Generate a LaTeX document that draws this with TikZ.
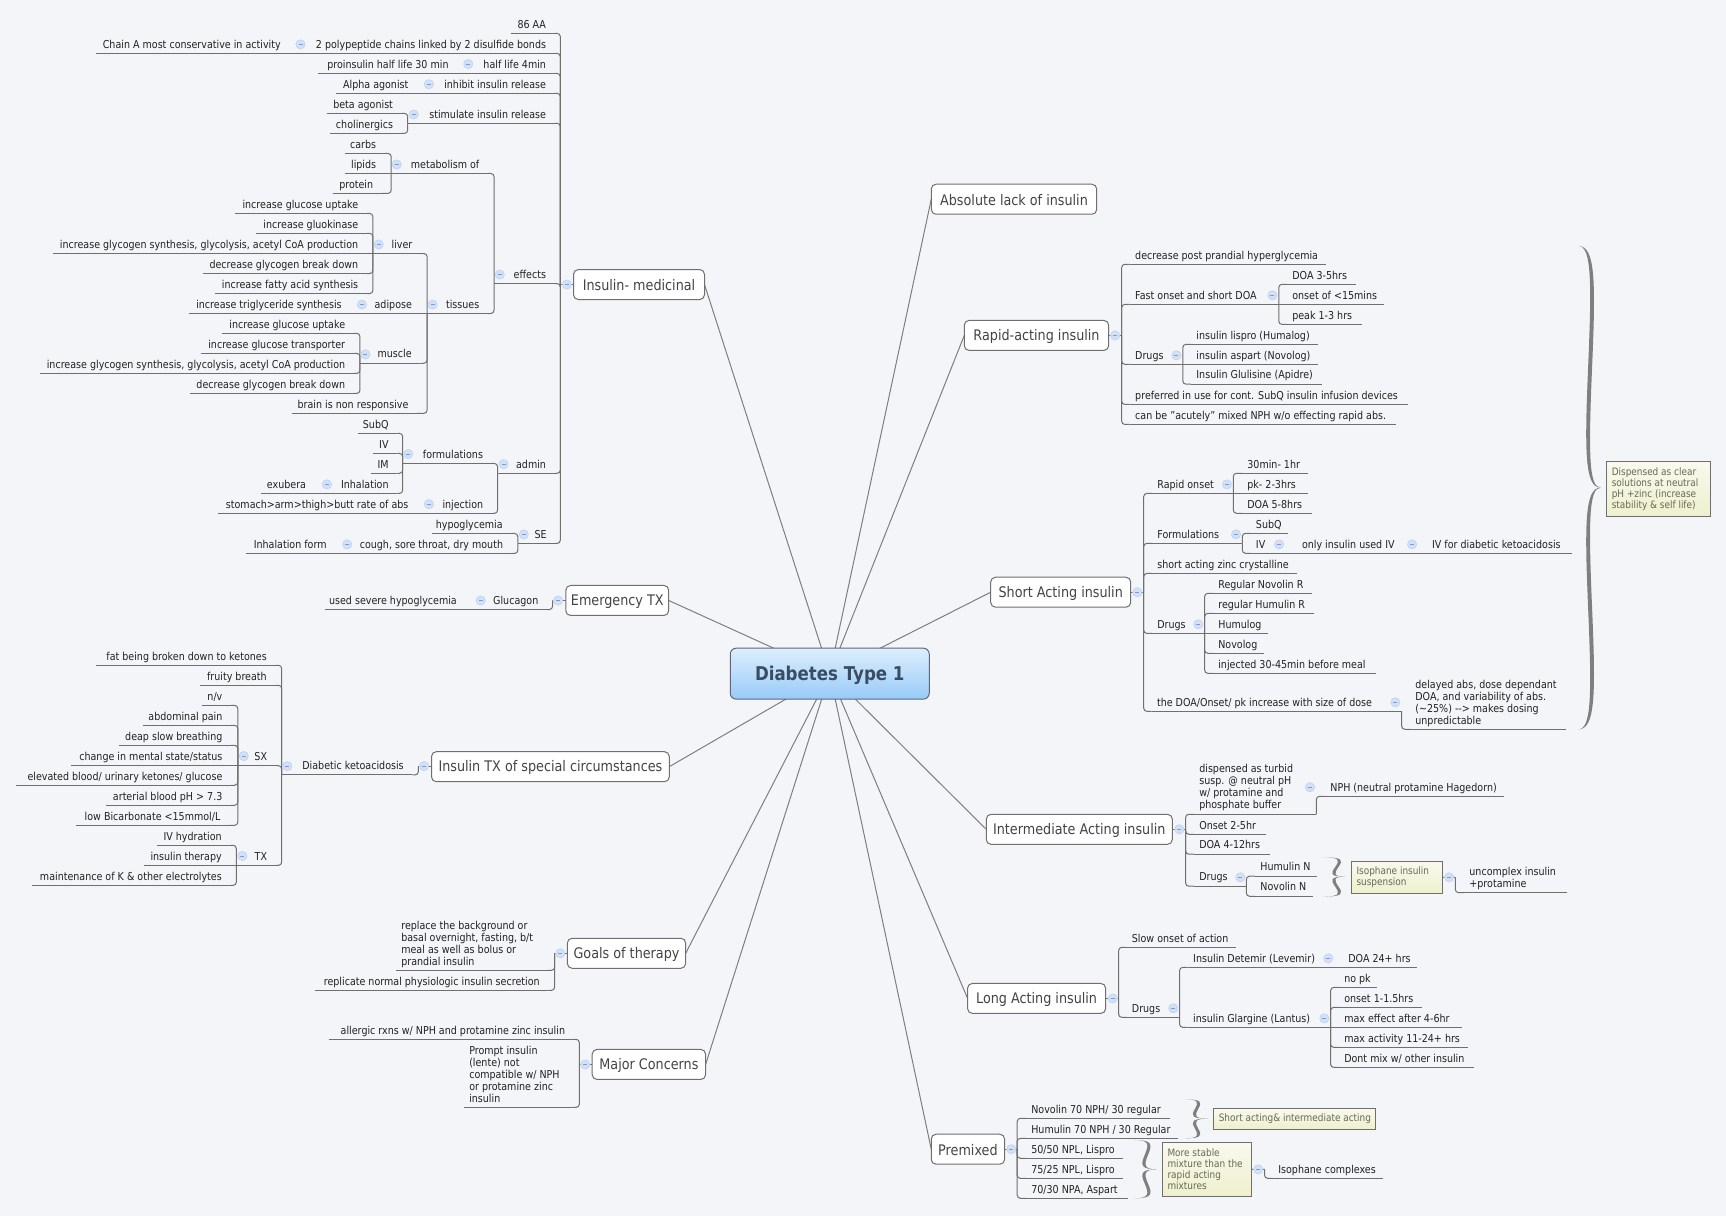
\documentclass[tikz,border=0pt]{standalone}
\usepackage{fontspec}
\setmainfont{DejaVu Sans}[FakeStretch=0.875]
\usetikzlibrary{backgrounds,calc}
\definecolor{bgc}{HTML}{F3F5F9}
\definecolor{linec}{HTML}{6F6F6F}
\definecolor{spokec}{HTML}{7E7E7E}
\definecolor{txtc}{HTML}{222222}
\definecolor{topc}{HTML}{444444}
\definecolor{notec}{HTML}{686858}
\definecolor{ctrc}{HTML}{3A4C62}
\definecolor{mnfill}{HTML}{D3E1F6}
\definecolor{mndraw}{HTML}{BDD1F0}
\definecolor{mndash}{HTML}{7E9CD2}
\definecolor{notet}{HTML}{F9F9EE}
\definecolor{noteb}{HTML}{EEF0CC}
\definecolor{ctrt}{HTML}{DCEEFD}
\definecolor{ctrb}{HTML}{98CBF8}
\definecolor{bracec}{HTML}{7F7F7F}
\newlength\ux \setlength\ux{0.5504pt}
\newcounter{mnc}
\tikzset{
  lab/.style={inner sep=0pt,outer sep=0pt,text depth=2.64pt,text=txtc,font=\fontsize{5.45}{6}\selectfont},
  ul/.style={draw=linec,line width=0.5pt},
  conn/.style={draw=linec,line width=0.5pt,rounded corners=1.6pt},
  spoke/.style={draw=spokec,line width=0.5pt},
  mns/.style={circle,inner sep=0pt,outer sep=0pt,minimum size=4.6pt,fill=mnfill,draw=mndraw,line width=0.3pt,
    path picture={\draw[mndash,line width=0.35pt] ([xshift=-1pt]path picture bounding box.center)--([xshift=1pt]path picture bounding box.center);}},
  topic/.style={draw=linec,fill=white,rounded corners=2.4pt,line width=0.5pt,text=topc,inner sep=0pt,outer sep=0pt,font=\fontsize{7.3}{8}\selectfont},
  note/.style={draw=linec,top color=notet,bottom color=noteb,line width=0.5pt,text=notec,inner sep=0pt,outer sep=0pt,font=\fontsize{5.1}{5.5}\selectfont},
  brc/.style={fill=bracec,draw=none},
}
\newcommand\mlb[2][6pt]{\vbox{\baselineskip=#1\lineskiplimit=-20pt\halign{##\hfil\cr #2\crcr}}}
% left-side branch: name, underline start, text right edge, underline y, text
\newcommand\LN[5]{%
  \pgfmathsetlengthmacro\myw{(#3+8-(#2))*\ux}%
  \node[lab,anchor=south east] (#1) at ({#3+8},#4) {\makebox[\myw][r]{#5\hspace{4.4pt}}};
  \draw[ul] (#1.south west) -- (#1.south east);
}
% right-side branch: name, text left edge, underline end, underline y, text
\newcommand\RN[5]{%
  \pgfmathsetlengthmacro\myw{(#3-(#2)+5)*\ux}%
  \node[lab,anchor=south west] (#1) at ({#2-5},#4) {\makebox[\myw][l]{\hspace{2.75pt}#5}};
  \draw[ul] (#1.south west) -- (#1.south east);
}
% elbow connector, straight when both ends are level
\newcommand\elbow[2]{%
  \path let \p1=(#1),\p2=(#2) in \pgfextra{\xdef\ydiff{\the\dimexpr\y1-\y2\relax}};
  \ifdim\ydiff<0.2pt \ifdim\ydiff>-0.2pt
      \draw[ul] (#1) -- (#2);
    \else
      \draw[conn] (#1) |- (#2);
    \fi
  \else
    \draw[conn] (#1) |- (#2);
  \fi
}
\newcommand\cLs[2]{\foreach \cc in {#2} {\elbow{#1}{\cc.south east}}}
\newcommand\cRs[2]{\foreach \cc in {#2} {\elbow{#1}{\cc.south west}}}
\newcommand\mn[2]{\stepcounter{mnc}\node[mns] (mn\arabic{mnc}) at (#1,#2) {};}
% topic box: name, left, right, centre y, text
\newcommand\TP[5]{%
  \pgfmathsetlengthmacro\myw{(#3-(#2))*\ux}%
  \node[topic,minimum width=\myw,minimum height=15pt] (#1) at ({(#2+#3)/2},#4) {\raisebox{-0.5pt}[\height][\depth]{#5}};
}
% note box: name, left, right, top, bottom, text
\newcommand\NT[6]{%
  \pgfmathsetlengthmacro\myw{(#3-(#2))*\ux}%
  \pgfmathsetlengthmacro\myh{(#5-(#4))*\ux}%
  \node[note,minimum width=\myw,minimum height=\myh] (#1) at ({(#2+#3)/2},{(#4+#5)/2}) {\makebox[\myw][l]{\hspace{2.6pt}#6}};
}
% curly brace: x-start, x-upper spine, x-lower spine, x-tip, y-top, y-centre, y-bottom, thickness
\newcommand\CB[8]{%
  \pgfmathsetmacro\ha{#6-#5}\pgfmathsetmacro\hb{#7-#6}%
  \fill[brc] (#1,#5) .. controls (#2,#5) and (#2,{#5+.15*\ha}) .. ({(#2+#3)/2},{#5+.5*\ha})
    .. controls (#3,{#5+.85*\ha}) and (#3,#6) .. (#4,#6)
    .. controls ({#3+#8},#6) and ({#3+#8},{#5+.85*\ha}) .. ({(#2+#3)/2+#8},{#5+.5*\ha})
    .. controls ({#2+#8},{#5+.15*\ha}) and ({#2+#8},#5) .. (#1,#5) -- cycle;
  \fill[brc] (#1,#7) .. controls (#2,#7) and (#2,{#7-.15*\hb}) .. ({(#2+#3)/2},{#7-.5*\hb})
    .. controls (#3,{#7-.85*\hb}) and (#3,#6) .. (#4,#6)
    .. controls ({#3+#8},#6) and ({#3+#8},{#7-.85*\hb}) .. ({(#2+#3)/2+#8},{#7-.5*\hb})
    .. controls ({#2+#8},{#7-.15*\hb}) and ({#2+#8},#7) .. (#1,#7) -- cycle;
}
\begin{document}
\begin{tikzpicture}[x=\ux,y=-\ux]
\useasboundingbox (0,0) rectangle (1568,1104.65);
% ---------- central and main topics
\node[draw=linec!90!blue,rounded corners=3pt,line width=0.5pt,top color=ctrt,bottom color=ctrb,
  minimum width=99.5pt,minimum height=25.5pt,inner sep=0pt,text=ctrc,font=\fontsize{9.5}{10}\selectfont\bfseries] (ctr) at (753.8,612) {\raisebox{-0.8pt}[\height][\depth]{Diabetes Type 1}};
\TP{tabs}{846}{996.3}{181}{Absolute lack of insulin}
\TP{trap}{876}{1007.2}{304.7}{Rapid-acting insulin}
\TP{tsho}{900}{1027.2}{538}{Short Acting insulin}
\TP{tint}{896}{1065}{753.4}{Intermediate Acting insulin}
\TP{tlon}{879}{1004.4}{907}{Long Acting insulin}
\TP{tpre}{846}{912.6}{1044}{Premixed}
\TP{tmed}{521}{640}{258.5}{Insulin- medicinal}
\TP{teme}{514}{607.5}{545.5}{Emergency TX}
\TP{tspe}{392}{608}{696.5}{Insulin TX of special circumstances}
\TP{tgoa}{515.4}{622.9}{866}{Goals of therapy}
\TP{tmaj}{538}{641}{967}{Major Concerns}
\begin{scope}[on background layer]
  \fill[bgc] (0,0) rectangle (1568,1104.65);
  \foreach \tt in {tabs,trap,tsho,tint,tlon,tpre} {\draw[spoke] (ctr.center) -- (\tt.west);}
  \foreach \tt in {tmed,teme,tspe,tgoa,tmaj} {\draw[spoke] (ctr.center) -- (\tt.east);}
\end{scope}
% ---------- Insulin- medicinal
\coordinate (kmed) at (509,258.5);
\LN{a1}{464.6}{496}{30.3}{86 AA}
\LN{a2}{268}{496}{48.5}{2 polypeptide chains linked by 2 disulfide bonds}
\LN{a2a}{87}{255}{48.5}{Chain A most conservative in activity}
\LN{a3}{420}{496}{66.7}{half life 4min}
\LN{a3a}{289}{407.5}{66.7}{proinsulin half life 30 min}
\LN{a4}{384}{496}{84.8}{inhibit insulin release}
\LN{a4a}{305}{371}{84.8}{Alpha agonist}
\LN{a5}{370.4}{496}{112}{stimulate insulin release}
\LN{a5a}{297}{357}{103}{beta agonist}
\LN{a5b}{299.6}{357}{121.2}{cholinergics}
\LN{eff}{448.8}{496}{257.6}{effects}
\LN{met}{355.4}{435.4}{157.6}{metabolism of}
\LN{m1}{313.3}{341.7}{139.4}{carbs}
\LN{m2}{313.3}{341.7}{157.6}{lipids}
\LN{m3}{302.5}{339}{175.7}{protein}
\LN{tis}{388}{435.4}{284.8}{tissues}
\LN{liv}{338.75}{374.6}{230.3}{liver}
\LN{l1}{213.75}{325.4}{193.9}{increase glucose uptake}
\LN{l2}{232.5}{325.4}{212}{increase gluokinase}
\LN{l3}{48.3}{325.4}{230.3}{increase glycogen synthesis, glycolysis, acetyl CoA production}
\LN{l4}{184.6}{325.4}{248.5}{decrease glycogen break down}
\LN{l5}{195.4}{325.4}{266.7}{increase fatty acid synthesis}
\LN{adi}{324}{374.2}{284.8}{adipose}
\LN{adia}{172}{310.4}{284.8}{increase triglyceride synthesis}
\LN{mus}{327}{374}{330}{muscle}
\LN{u1}{201.7}{313.5}{302.8}{increase glucose uptake}
\LN{u2}{182.5}{313.5}{321}{increase glucose transporter}
\LN{u3}{36.25}{313.5}{339.2}{increase glycogen synthesis, glycolysis, acetyl CoA production}
\LN{u4}{173}{313.5}{357.4}{decrease glycogen break down}
\LN{bra}{265}{371}{375.5}{brain is non responsive}
\LN{adm}{452}{496}{430}{admin}
\LN{for}{365.8}{438.75}{421}{formulations}
\LN{f1}{325}{353}{393.7}{SubQ}
\LN{f2}{338.75}{353}{411.9}{IV}
\LN{f3}{336.7}{353}{430}{IM}
\LN{f4}{292}{353}{448.3}{Inhalation}
\LN{f4a}{237}{278}{448.3}{exubera}
\LN{inj}{385}{439}{466.4}{injection}
\LN{inja}{198.3}{371}{466.4}{stomach>arm>thigh>butt rate of abs}
\LN{se}{470.4}{496.7}{493.7}{SE}
\LN{s1}{392}{456.7}{484.6}{hypoglycemia}
\LN{s2}{310}{457}{502.8}{cough, sore throat, dry mouth}
\LN{s2a}{223.3}{296.7}{502.8}{Inhalation form}
\draw[conn] (tmed.west) -- (kmed);
\cLs{kmed}{a1,a2,a3,a4,a5,eff,adm,se}
\cLs{a2.south west}{a2a}
\cLs{a3.south west}{a3a}
\cLs{a4.south west}{a4a}
\cLs{a5.south west}{a5a,a5b}
\cLs{eff.south west}{met,tis}
\cLs{met.south west}{m1,m2,m3}
\cLs{tis.south west}{liv,adi,mus,bra}
\cLs{liv.south west}{l1,l2,l3,l4,l5}
\cLs{adi.south west}{adia}
\cLs{mus.south west}{u1,u2,u3,u4}
\cLs{adm.south west}{for,inj}
\cLs{for.south west}{f1,f2,f3,f4}
\cLs{f4.south west}{f4a}
\cLs{inj.south west}{inja}
\cLs{se.south west}{s1,s2}
\cLs{s2.south west}{s2a}
\mn{515}{258.5}\mn{273}{40.3}\mn{425.4}{58.2}\mn{389.6}{76.5}\mn{375.8}{104}\mn{454}{249.4}\mn{360.4}{149.4}\mn{393}{276.7}\mn{344}{222}\mn{328.75}{276.7}\mn{332}{321.9}\mn{457.5}{421.6}\mn{370.8}{412.5}\mn{297}{440}\mn{389.6}{458}\mn{475.8}{485.5}\mn{315.4}{494.6}
% ---------- Emergency TX
\coordinate (keme) at (502,545.5);
\LN{gl}{431}{489}{553.7}{Glucagon}
\LN{gla}{295.4}{415}{553.7}{used severe hypoglycemia}
\draw[conn] (teme.west) -- (keme);
\cLs{keme}{gl}
\cLs{gl.south west}{gla}
\mn{507}{545.5}\mn{436.7}{545.5}
% ---------- Insulin TX of special circumstances
\coordinate (kspe) at (380,696.5);
\LN{dka}{255.9}{366.7}{704}{Diabetic ketoacidosis}
\LN{k1}{87.5}{242.3}{604.4}{fat being broken down to ketones}
\LN{k2}{182}{242.3}{622.6}{fruity breath}
\LN{sx}{216}{242.6}{695.6}{SX}
\LN{x1}{183.2}{202}{640.8}{n/v}
\LN{x2}{129.6}{202}{658.9}{abdominal pain}
\LN{x3}{107.8}{202}{677.1}{deap slow breathing}
\LN{x4}{64.2}{202}{695.6}{change in mental state/status}
\LN{x5}{14.5}{202}{713.4}{elevated blood/ urinary ketones/ glucose}
\LN{x6}{96.6}{202}{731.6}{arterial blood pH > 7.3}
\LN{x7}{69.4}{200.2}{749.8}{low Bicarbonate <15mmol/L}
\LN{tx}{214.7}{242.6}{786.1}{TX}
\LN{y1}{143}{201.4}{767.9}{IV hydration}
\LN{y2}{131}{201.4}{786.1}{insulin therapy}
\LN{y3}{28.8}{201.4}{804.3}{maintenance of K \& other electrolytes}
\draw[conn] (tspe.west) -- (kspe);
\cLs{kspe}{dka}
\cLs{dka.south west}{k1,k2,sx,tx}
\cLs{sx.south west}{x1,x2,x3,x4,x5,x6,x7}
\cLs{tx.south west}{y1,y2,y3}
\mn{385.2}{696}\mn{261}{696}\mn{221.4}{686.8}\mn{220.2}{777.6}
% ---------- Goals of therapy
\coordinate (kgoa) at (503.9,866);
\RN{g1}{364.6}{498}{881.5}{\mlb{replace the background or\cr basal overnight, fasting, b/t\cr meal as well as bolus or\cr prandial insulin}}
\LN{g2}{286.1}{490.2}{899.7}{replicate normal physiologic insulin secretion}
\draw[conn] (tgoa.west) -- (kgoa);
\cLs{kgoa}{g1,g2}
\mn{509}{866}
% ---------- Major Concerns
\coordinate (kmaj) at (526.3,967);
\LN{c1}{298.8}{513.3}{944.2}{allergic rxns w/ NPH and protamine zinc insulin}
\RN{c2}{426.3}{520}{1006}{\mlb{Prompt insulin\cr (lente) not\cr compatible w/ NPH\cr or protamine zinc\cr insulin}}
\draw[conn] (tmaj.west) -- (kmaj);
\cLs{kmaj}{c1,c2}
\mn{531.7}{967}
% ---------- Rapid-acting insulin
\coordinate (krap) at (1019,304.7);
\RN{r1}{1031.3}{1204.6}{240.1}{decrease post prandial hyperglycemia}
\RN{r2}{1031.3}{1161.7}{276.5}{Fast onset and short DOA}
\RN{r2a}{1174}{1232}{258.3}{DOA 3-5hrs}
\RN{r2b}{1174}{1257.7}{276.5}{onset of <15mins}
\RN{r2c}{1174}{1237}{294.7}{peak 1-3 hrs}
\RN{r3}{1031.3}{1074.5}{331}{Drugs}
\RN{r3a}{1086.9}{1197}{312.8}{insulin lispro (Humalog)}
\RN{r3b}{1086.9}{1197}{331}{insulin aspart (Novolog)}
\RN{r3c}{1086.9}{1201}{349}{Insulin Glulisine (Apidre)}
\RN{r4}{1031.3}{1279}{367.4}{preferred in use for cont. SubQ insulin infusion devices}
\RN{r5}{1031.3}{1268}{385.6}{can be "acutely" mixed NPH w/o effecting rapid abs.}
\draw[conn] (trap.east) -- (krap);
\cRs{krap}{r1,r2,r3,r4,r5}
\cRs{r2.south east}{r2a,r2b,r2c}
\cRs{r3.south east}{r3a,r3b,r3c}
\mn{1013.1}{304.7}\mn{1155.9}{268.3}\mn{1068.7}{322.8}
% ---------- Short Acting insulin
\coordinate (ksho) at (1039,538);
\RN{h1}{1051.4}{1120.4}{448.2}{Rapid onset}
\RN{h1a}{1133.2}{1188.6}{430}{30min- 1hr}
\RN{h1b}{1133.2}{1188.6}{448.2}{pk- 2-3hrs}
\RN{h1c}{1133.2}{1191.9}{466.3}{DOA 5-8hrs}
\RN{h2}{1051.4}{1128.6}{493.6}{Formulations}
\RN{h2a}{1141}{1169.8}{484.5}{SubQ}
\RN{h2b}{1141}{1177.8}{502.7}{IV}
\RN{h2c}{1182.8}{1296}{502.7}{only insulin used IV}
\RN{h2d}{1301}{1427.8}{502.7}{IV for diabetic ketoacidosis}
\RN{h3}{1051.4}{1178.6}{520.9}{short acting zinc crystalline}
\RN{h4}{1051.4}{1094.4}{575.4}{Drugs}
\RN{h4a}{1106.8}{1192.2}{539}{Regular Novolin R}
\RN{h4b}{1106.8}{1194}{557.2}{regular Humulin R}
\RN{h4c}{1106.8}{1151.6}{575.4}{Humulog}
\RN{h4d}{1106.8}{1148}{593.5}{Novolog}
\RN{h4e}{1106.8}{1250}{611.7}{injected 30-45min before meal}
\RN{h5}{1051.1}{1273.4}{646.2}{the DOA/Onset/ pk increase with size of dose}
\RN{h5a}{1285.8}{1422.7}{662.6}{\mlb{delayed abs, dose dependant\cr DOA, and variability of abs.\cr (\textasciitilde25\%) -{}-> makes dosing\cr unpredictable}}
\draw[conn] (tsho.east) -- (ksho);
\cRs{ksho}{h1,h2,h3,h4,h5}
\cRs{h1.south east}{h1a,h1b,h1c}
\cRs{h2.south east}{h2a,h2b}
\cRs{h2b.south east}{h2c}
\cRs{h2c.south east}{h2d}
\cRs{h4.south east}{h4a,h4b,h4c,h4d,h4e}
\cRs{h5.south east}{h5a}
\mn{1033.2}{538}\mn{1114.7}{440}\mn{1122.9}{485.4}\mn{1162}{494.5}\mn{1282.8}{494.5}\mn{1088.6}{567.2}\mn{1267.6}{638}
% big brace and its note
\CB{1433.8}{1446}{1439.5}{1454.1}{223.4}{443}{662.6}{3.6}
\NT{nclear}{1459.5}{1553.5}{419.3}{468.8}{\mlb[5.5pt]{Dispensed as clear\cr solutions at neutral\cr pH +zinc (increase\cr stability \& self life)}}
% ---------- Intermediate Acting insulin
\coordinate (kint) at (1077.1,753.4);
\RN{i1}{1089.5}{1195.8}{739.7}{\mlb{dispensed as turbid\cr susp. @ neutral pH\cr w/ protamine and\cr phosphate buffer}}
\RN{i1a}{1208.6}{1366}{723.4}{NPH (neutral protamine Hagedorn)}
\RN{i2}{1089.5}{1149.8}{757.9}{Onset 2-5hr}
\RN{i3}{1089.5}{1153.4}{776}{DOA 4-12hrs}
\RN{i4}{1089.5}{1132.2}{805.1}{Drugs}
\RN{i4a}{1145}{1196.2}{796}{Humulin N}
\RN{i4b}{1145}{1192.5}{814.2}{Novolin N}
\CB{1201.6}{1217.4}{1208.5}{1221.9}{778.8}{796.4}{814.5}{3}
\NT{niso}{1227.6}{1310.6}{782.4}{811.8}{\mlb[5.5pt]{Isophane insulin\cr suspension}}
\coordinate (kiso) at (1322.1,797);
\RN{i5}{1334.9}{1423.3}{810.9}{\mlb{uncomplex insulin\cr +protamine}}
\draw[conn] (tint.east) -- (kint);
\cRs{kint}{i1,i2,i3,i4}
\cRs{i1.south east}{i1a}
\cRs{i4.south east}{i4a,i4b}
\draw[conn] (niso.east) -- (kiso);
\cRs{kiso}{i5}
\mn{1071.4}{753.4}\mn{1190.1}{715.2}\mn{1126.8}{797}\mn{1316.4}{797}
% ---------- Long Acting insulin
\coordinate (klon) at (1016.2,907);
\RN{o1}{1028.3}{1122.8}{860.6}{Slow onset of action}
\RN{o2}{1028.3}{1071.6}{924.2}{Drugs}
\RN{o2a}{1084}{1219.9}{878.8}{Insulin Detemir (Levemir)}
\RN{o2b}{1224.9}{1287.6}{878.8}{DOA 24+ hrs}
\RN{o3}{1084}{1208.8}{933.3}{insulin Glargine (Lantus)}
\RN{o3a}{1221.2}{1251.2}{897}{no pk}
\RN{o3b}{1221.2}{1292.1}{915.1}{onset 1-1.5hrs}
\RN{o3c}{1221.2}{1327.8}{933.3}{max effect after 4-6hr}
\RN{o3d}{1221.2}{1333.9}{951.5}{max activity 11-24+ hrs}
\RN{o3e}{1221.2}{1339.3}{969.7}{Dont mix w/ other insulin}
\draw[conn] (tlon.east) -- (klon);
\cRs{klon}{o1,o2}
\cRs{o2.south east}{o2a,o3}
\cRs{o2a.south east}{o2b}
\cRs{o3.south east}{o3a,o3b,o3c,o3d,o3e}
\mn{1010.8}{907}\mn{1065.9}{916}\mn{1206.7}{870.6}\mn{1203.1}{925.1}
% ---------- Premixed
\coordinate (kpre) at (924.1,1044);
\RN{p1}{936.9}{1062.8}{1015.9}{Novolin 70 NPH/ 30 regular}
\RN{p2}{936.9}{1070.4}{1034.1}{Humulin 70 NPH / 30 Regular}
\RN{p3}{936.9}{1019.8}{1052.3}{50/50 NPL, Lispro}
\RN{p4}{936.9}{1019.8}{1070.5}{75/25 NPL, Lispro}
\RN{p5}{936.9}{1025}{1088.6}{70/30 NPA, Aspart}
\draw[conn] (tpre.east) -- (kpre);
\cRs{kpre}{p1,p2,p3,p4,p5}
\CB{1076.5}{1089}{1082}{1097.7}{998.7}{1016.2}{1034.1}{3}
\NT{nshort}{1102.5}{1249.4}{1006.9}{1026}{Short acting\& intermediate acting}
\CB{1030.4}{1044}{1036}{1051.3}{1035.6}{1062.3}{1088.6}{3}
\NT{nmore}{1055.9}{1137}{1037.7}{1086.8}{\mlb[5.5pt]{More stable\cr mixture than the\cr rapid acting\cr mixtures}}
\coordinate (kmor) at (1148.8,1062.3);
\RN{p6}{1161.3}{1256.7}{1070.5}{Isophane complexes}
\draw[conn] (nmore.east) -- (kmor);
\cRs{kmor}{p6}
\mn{918.7}{1044}\mn{1143}{1062.3}
\end{tikzpicture}
\end{document}
